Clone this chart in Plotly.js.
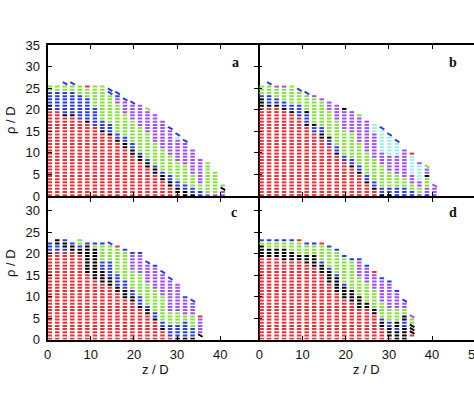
<!DOCTYPE html>
<html><head><meta charset="utf-8">
<script src="https://cdn.plot.ly/plotly-3.0.1.min.js"></script>
<style>html,body{margin:0;padding:0;overflow:hidden;background:#fff}#chart{width:480px;height:395px}</style>
</head><body><div id="chart"></div>
<script>
// grid of the vector field (units of D)
const zStep = 1.74;
const rhoStep = 0.74;
const rhoOffset = 0.2;
// per-column runs from rho=0 upward: colour letter + count; upper case = tilted arrow, _ = empty
const colsA = [
"r27 b1 k1 b4 g2","r27 b6 g2","r25 k1 b7 g2 B1","r25 k1 b7 g2 B1","r24 b8 g3","r23 k1 b7 g3 r1",
"r22 b6 g7","r20 k1 b3 g11","r19 k1 b3 g9 B2","r17 k1 b2 g9 p2 b1 B1","r15 k2 b2 g7 p4 B1","r13 k2 b2 g7 p5 B1",
"r11 k2 b1 g8 p7","r9 k2 b1 g8 p7 G1","r7 k2 b1 g7 p9","r5 k2 b1 g7 p9","r3 k2 b2 g6 p8 B1","r1 k2 b2 g6 p7 c1 B1",
"k2 b2 g6 p7 B1","k1 b2 g4 p8","b2 g2 p8","p1 g10","p1 g7","p2 K1 g1"
];
const colsB = [
"r28 k3 b1 g3","r28 k1 b3 g3 B1","r28 k1 b2 g3 p1","r27 k1 b2 g4 p1","r26 k1 b2 g6","r25 b4 g4 B1",
"r22 k1 b3 k1 g5 B1","r20 b2 k1 g8 p1","r18 k2 b2 g8 p1","r16 b2 k1 g8 p3","r13 k1 b2 g8 p5","r11 b2 g8 p6 k1",
"r9 k1 b2 g8 p7","r7 k1 b2 g7 p8 g1","r4 k1 b2 g7 p10","r2 k1 b2 g7 p8 c3","k1 b2 g7 p4 c7 B1","k1 b2 g5 p5 c6 B1",
"b3 g4 p6 c4 B1","b3 g3 p9","b2 g2 p3 c6 r1","p1 g2 p2 c5 p1","b1 p2 g3 k1 p2 G1","p3 P1"
];
const colsC = [
"r28 b3","r28 b2 k2","r28 b1 k2 b1","r28 k2 b1","r27 k2 b1 g2","r21 k9 b1",
"r19 k10 g1 b1","r18 k4 b3 g5 b1","r17 k3 b5 g5 B1","r15 k2 b4 g8 r1","r13 k3 b3 g9 b1","r12 k2 b2 g6 p5 b1",
"r10 k1 b3 g7 p6 b1","r8 k2 b1 g7 p6 B1","r6 k1 b2 g7 p7 b1","r3 k1 b2 g8 p7 B1","r1 b4 g4 p10 B1","k1 b4 g4 p9",
"k1 b5 g2 p5 b1","k1 b3 g4 p4 B1","_1 K1 p5 r1"
];
const colsD = [
"r26 k4 g1 b1","r26 k3 g2 b1","r26 k3 g2 b1","r25 k4 g2 b1","r25 k3 g3 b1","r25 k2 g4 r1",
"r24 k3 g3 b1","r23 k4 g3 b1","r21 k3 b1 g5 r1","r18 k4 b1 g6 b1","r15 k5 b1 g7 b1","r13 k4 b1 g8 b1",
"r12 k4 g9 b1","r10 k4 g6 p5 b1","r10 k2 g6 p5 b1","r8 k2 g6 p5 r1","r4 k2 b1 g5 p7 b1","r1 k3 b2 g4 p8 b1",
"k3 b1 k2 g4 p5 b1","k4 b2 k2 g2 p2 B1","_1 r1 K3 g2 P1"
];
const panelLabels = ["a","b","c","d"];
const xTicks = [0,10,20,30,40,50];
const yTicks = [0,5,10,15,20,25,30,35];
const colorMap = {r:"#e8303a", k:"#000000", g:"#86e040", p:"#a050f0", b:"#2a3fe0", c:"#9ef0ec"};

const W = 480, H = 395;
const px = x => x / W, py = y => 1 - y / H;
const dashLen = 1.05;

function buildTraces(cols, xa, ya) {
  const segs = {};
  cols.forEach((col, i) => {
    const z = i * zStep;
    let j = 0;
    col.trim().split(/\s+/).forEach(tok => {
      const ch = tok[0], n = parseInt(tok.slice(1), 10);
      for (let k = 0; k < n; k++, j++) {
        if (ch === "_") continue;
        const key = ch.toLowerCase();
        const tilted = ch !== key;
        const rho = j * rhoStep + rhoOffset;
        if (!segs[key]) segs[key] = {x: [], y: []};
        if (tilted) {
          segs[key].x.push(z + 0.05, z + 1.1, null);
          segs[key].y.push(rho + 0.3, rho - 0.3, null);
        } else {
          segs[key].x.push(z, z + dashLen, null);
          segs[key].y.push(rho, rho, null);
        }
      }
    });
  });
  return Object.keys(segs).map(key => ({
    type: "scatter", mode: "lines", x: segs[key].x, y: segs[key].y,
    xaxis: xa, yaxis: ya, line: {color: colorMap[key], width: 2},
    hoverinfo: "skip", showlegend: false, connectgaps: false
  }));
}

const traces = [].concat(
  buildTraces(colsA, "x", "y"),
  buildTraces(colsB, "x2", "y2"),
  buildTraces(colsC, "x3", "y3"),
  buildTraces(colsD, "x4", "y4")
);

const tickFont = {family: "Liberation Sans, Arial, sans-serif", size: 13, color: "#111"};
function ax(extra) {
  return Object.assign({
    showline: true, linewidth: 2, linecolor: "#000", mirror: "ticks",
    ticks: "inside", ticklen: 4, tickwidth: 1, tickcolor: "#000",
    showgrid: false, zeroline: false, tickfont: tickFont, fixedrange: true,
    ticklabeloverflow: "allow"
  }, extra);
}
const sc = 4.32;
const xLeftA = [px(47.5), px(258)];
const xRightB = [px(258), 1];
const rangeA = [0, (258 - 47.5) / sc];
const rangeB = [(258 - 259.3) / sc, (480 - 259.3) / sc];
const yTop = [py(196), py(45)];
const yBot = [py(339.5), py(198)];
const rangeTop = [0, 35];
const rangeBot = [0, (339.5 - 198) / 4.29];

const layout = {
  width: W, height: H, margin: {l: 0, r: 0, t: 0, b: 0},
  paper_bgcolor: "#fff", plot_bgcolor: "#fff", showlegend: false,
  xaxis:  ax({domain: xLeftA, range: rangeA, anchor: "y", tickvals: xTicks, showticklabels: false}),
  yaxis:  ax({domain: yTop, range: rangeTop, anchor: "x", tickvals: yTicks, ticklabelstandoff: 3}),
  xaxis2: ax({domain: xRightB, range: rangeB, anchor: "y2", tickvals: xTicks, showticklabels: false}),
  yaxis2: ax({domain: yTop, range: rangeTop, anchor: "x2", tickvals: yTicks, showticklabels: false, showline: false}),
  xaxis3: ax({domain: xLeftA, range: rangeA, anchor: "y3", tickvals: xTicks, ticklabelstandoff: 2}),
  yaxis3: ax({domain: yBot, range: rangeBot, anchor: "x3", tickvals: yTicks, ticklabelstandoff: 3}),
  xaxis4: ax({domain: xRightB, range: rangeB, anchor: "y4", tickvals: xTicks, ticklabelstandoff: 2}),
  yaxis4: ax({domain: yBot, range: rangeBot, anchor: "x4", tickvals: yTicks, showticklabels: false, showline: false}),
  annotations: [
    {text: "ρ / D", x: px(10), y: py(120), textangle: -90},
    {text: "ρ / D", x: px(10), y: py(263), textangle: -90},
    {text: "z / D", x: px(155), y: py(369)},
    {text: "z / D", x: px(366), y: py(369)}
  ].map(a => Object.assign({xref: "paper", yref: "paper", showarrow: false, xanchor: "center", yanchor: "middle",
      font: {family: "Liberation Sans, Arial, sans-serif", size: 13, color: "#111"}}, a))
  .concat([
    {text: "<b>" + panelLabels[0] + "</b>", x: px(235), y: py(63)},
    {text: "<b>" + panelLabels[1] + "</b>", x: px(453), y: py(63)},
    {text: "<b>" + panelLabels[2] + "</b>", x: px(234), y: py(212)},
    {text: "<b>" + panelLabels[3] + "</b>", x: px(453), y: py(212)}
  ].map(a => Object.assign({xref: "paper", yref: "paper", showarrow: false, xanchor: "center", yanchor: "middle",
      font: {family: "Liberation Serif, Times New Roman, serif", size: 14, color: "#111"}}, a)))
};

Plotly.newPlot("chart", traces, layout, {displayModeBar: false, staticPlot: true});
</script>
</body></html>
